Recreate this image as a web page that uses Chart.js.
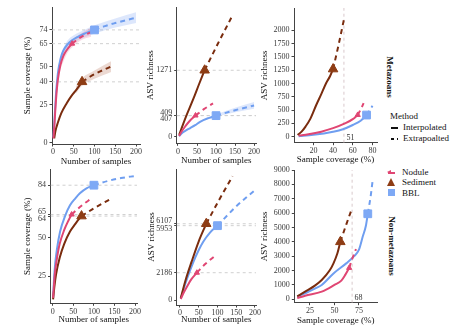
<!DOCTYPE html>
<html><head><meta charset="utf-8">
<script src="https://cdn.jsdelivr.net/npm/chart.js@4.4.1/dist/chart.umd.min.js"></script>
<style>
html,body{margin:0;padding:0;background:#fff;}
#wrap{position:relative;width:474px;height:336px;overflow:hidden;font-family:"Liberation Serif","Times New Roman",serif;color:#111;}
#wrap canvas{position:absolute;left:0;top:0;}
.strip{position:absolute;writing-mode:vertical-rl;font-weight:bold;font-size:9px;transform:translate(-50%,-50%);white-space:nowrap;}
.lg{position:absolute;font-size:9px;line-height:11px;white-space:nowrap;}
.ic{position:absolute;}
</style></head><body>
<div id="wrap">
  <div class="strip" style="left:390px;top:77px;">Metazoans</div>
  <div class="strip" style="left:391.5px;top:246px;">Non-metazoans</div>
  <div class="lg" style="left:390px;top:111px;">Method</div>
  <div class="ic" style="left:391px;top:127px;width:7px;height:2px;background:#111;"></div>
  <div class="lg" style="left:403px;top:122px;">Interpolated</div>
  <div class="ic" style="left:391px;top:137.5px;width:3px;height:2px;background:#111;"></div>
  <div class="ic" style="left:396.5px;top:137.5px;width:1.5px;height:2px;background:#111;"></div>
  <div class="lg" style="left:403px;top:133px;">Extrapoalted</div>
  <div class="ic" style="left:388px;top:171.5px;width:7px;height:2px;background:#e04673;"></div>
  <div class="ic" style="left:387px;top:170px;width:0;height:0;border-top:2.5px solid transparent;border-bottom:2.5px solid transparent;border-right:4px solid #e04673;"></div>
  <div class="lg" style="left:402px;top:167px;">Nodule</div>
  <div class="ic" style="left:387px;top:178px;width:0;height:0;border-left:4px solid transparent;border-right:4px solid transparent;border-bottom:8px solid #8e3c14;"></div>
  <div class="lg" style="left:402px;top:177px;">Sediment</div>
  <div class="ic" style="left:387.5px;top:189px;width:7px;height:7px;background:#7ea9f5;"></div>
  <div class="lg" style="left:402px;top:187.5px;">BBL</div>
</div>
<script>
// ---------------- DATA ----------------
const groups = ['Nodule', 'Sediment', 'BBL'];
const samplesTicks = [0, 50, 100, 150, 200];
const coverageTicksMeta = [20, 40, 60, 80];
const coverageTicksNon = [25, 50, 75];

// Metazoans: sample coverage vs number of samples
const metaCovYTicks = [0, 25, 40, 50, 65, 74];
const metaCovNoduleInt = [[1,3],[3,10],[5,19],[8,31],[12,42],[18,51],[25,57],[35,61.5],[46,65]];
const metaCovNoduleExt = [[46,65],[60,68],[75,70.5],[92,72.5]];
const metaCovSedimentInt = [[3,3],[6,8],[12,13.5],[20,19.5],[33,26],[45,31],[57,35],[70,40]];
const metaCovSedimentExt = [[70,40],[90,43.5],[115,47],[140,50]];
const metaCovBBLInt = [[1,4],[3,12],[5,22],[8,35],[12,46],[18,55],[25,60.5],[35,64.5],[45,67],[60,69.5],[75,71.5],[90,73],[100,74]];
const metaCovBBLExt = [[100,74],[125,76.5],[150,78.5],[175,80.3],[200,82]];
const metaCovPoints = [[46,65],[70,40],[100,74]];
const metaCovRefs = [74, 65, 40];
const metaCovNoduleBandUp = [[20,56],[35,64],[46,67.5],[70,72],[92,75.5]];
const metaCovNoduleBandLo = [[20,50],[35,59],[46,62.5],[70,67.5],[92,69.5]];
const metaCovSedimentBandUp = [[55,37],[70,42.5],[100,47.5],[140,53.5]];
const metaCovSedimentBandLo = [[55,32.5],[70,37.5],[100,42],[140,46.5]];
const metaCovBBLBandUp = [[20,59],[35,67],[50,70.5],[75,74],[100,77],[150,81.5],[200,85.5]];
const metaCovBBLBandLo = [[20,54],[35,62],[50,65.5],[75,69],[100,71.5],[150,75.5],[200,78.5]];

// Metazoans: ASV richness vs number of samples
const metaAsvYTicks = [0, 407, 409, 1271];
const metaAsvNoduleInt = [[3,20],[10,110],[20,210],[30,300],[46,409]];
const metaAsvNoduleExt = [[46,409],[68,530],[92,640]];
const metaAsvSedimentInt = [[3,40],[20,370],[40,720],[55,1000],[70,1271]];
const metaAsvSedimentExt = [[70,1271],[105,1780],[140,2270]];
const metaAsvBBLInt = [[3,15],[10,70],[20,120],[32,170],[45,225],[58,290],[80,360],[100,407]];
const metaAsvBBLExt = [[100,407],[150,510],[200,600]];
const metaAsvPoints = [[46,409],[70,1271],[100,407]];
const metaAsvRefs = [1271, 409, 407];
const metaAsvBBLBandUp = [[100,430],[150,555],[200,665]];
const metaAsvBBLBandLo = [[100,385],[150,470],[200,540]];

// Metazoans: ASV richness vs sample coverage
const metaAsvCovYTicks = [0, 250, 500, 750, 1000, 1250, 1500, 1750, 2000];
const metaAsvCovNoduleInt = [[5,20],[15,45],[28,94],[40,160],[52,250],[60,330],[65,409]];
const metaAsvCovNoduleExt = [[65,409],[68,510],[71,630]];
const metaAsvCovSedimentInt = [[4,32],[8,95],[12,190],[17,340],[23,600],[28,800],[33,1010],[37,1140],[40,1271]];
const metaAsvCovSedimentExt = [[40,1271],[45.5,1720],[51,2200]];
const metaAsvCovBBLInt = [[5,10],[20,35],[40,94],[50,140],[60,220],[68,300],[74,407]];
const metaAsvCovBBLExt = [[74,407],[77,490],[80,580]];
const metaAsvCovPoints = [[65,409],[40,1271],[74,407]];
const metaAsvCovVRef = [51];

// Non-metazoans: sample coverage vs number of samples
const nonCovYTicks = [25, 50, 64, 65, 84];
const nonCovNoduleInt = [[1,11],[5,26],[10,36],[17,46],[28,55],[38,61],[46,65]];
const nonCovNoduleExt = [[46,65],[60,68.5],[75,71.8],[92,75]];
const nonCovSedimentInt = [[1,10],[4,18],[8,26],[17,37],[28,46],[42,54],[55,59],[62,61.5],[70,64]];
const nonCovSedimentExt = [[70,64],[100,69],[140,75]];
const nonCovBBLInt = [[1,11],[3,22],[6,33],[10,42],[18,54],[30,64],[42,71],[55,75.5],[66,78.8],[82,82],[100,84]];
const nonCovBBLExt = [[100,84],[133,86.7],[166,88.6],[200,90]];
const nonCovPoints = [[46,65],[70,64],[100,84]];
const nonCovRefs = [84, 65, 64];

// Non-metazoans: ASV richness vs number of samples
const nonAsvYTicks = [0, 2186, 5953, 6107];
const nonAsvNoduleInt = [[2,80],[10,600],[20,1150],[30,1650],[45,2186]];
const nonAsvNoduleExt = [[45,2186],[68,2900],[92,3500]];
const nonAsvSedimentInt = [[2,150],[15,1600],[31,3070],[50,4700],[70,6107]];
const nonAsvSedimentExt = [[70,6107],[105,8050],[140,9900]];
const nonAsvBBLInt = [[2,100],[10,900],[20,1800],[35,3000],[50,4000],[62,4670],[80,5400],[100,5953]];
const nonAsvBBLExt = [[100,5953],[150,7500],[200,8800]];
const nonAsvPoints = [[45,2186],[70,6107],[100,5953]];
const nonAsvRefs = [6107, 5953, 2186];

// Non-metazoans: ASV richness vs sample coverage
const nonAsvCovYTicks = [0, 1000, 2000, 3000, 4000, 5000, 6000, 7000, 8000, 9000];
const nonAsvCovNoduleInt = [[12,80],[20,250],[37,530],[50,1000],[57,1300],[61,1700],[65,2186]];
const nonAsvCovNoduleExt = [[65,2186],[68,2800],[72,3500]];
const nonAsvCovSedimentInt = [[12,200],[20,530],[30,950],[37,1343],[45,2000],[49,2505],[53,3200],[56,4000]];
const nonAsvCovSedimentExt = [[56,4000],[62,5200],[68,6350]];
const nonAsvCovBBLInt = [[12,200],[20,420],[30,750],[37,1000],[49,1800],[62,2500],[70,3000],[75,3450],[79,4400],[82,5100],[84,5953]];
const nonAsvCovBBLExt = [[84,5953],[87,7200],[89,8300]];
const nonAsvCovPoints = [[65,2186],[56,4000],[84,5953]];
const nonAsvCovVRef = [68];

// ---------------- STYLE / BUILD ----------------
Chart.defaults.font.family = '"Liberation Serif", "Times New Roman", serif';
const COL = {Nodule:'#e04673', Sediment:'#7a2c0e', BBL:'#6f9ef0'};
const MCOL = {Nodule:'#e04673', Sediment:'#8e3c14', BBL:'#7ea9f5'};
const MSTYLE = {Nodule:['triangle',3], Sediment:['triangle',5.5], BBL:['rect',5.5]};
const BAND = {Nodule:'rgba(228,90,130,0.22)', Sediment:'rgba(170,80,50,0.22)', BBL:'rgba(120,160,245,0.25)'};
const pts = a => a.map(p => ({x:p[0], y:p[1]}));

const refTextPlugin = {
  id:'refText',
  afterDatasetsDraw(chart, args, opts){
    const ctx = chart.ctx, xs = chart.scales.x;
    (opts.items || []).forEach(v => {
      const px = xs.getPixelForValue(v);
      ctx.save();
      ctx.font = '8px "Liberation Serif", serif';
      ctx.fillStyle = '#333';
      ctx.textAlign = 'left';
      ctx.textBaseline = 'bottom';
      ctx.fillText(String(v), px + 2.5, chart.chartArea.bottom - 0.5);
      ctx.restore();
    });
  }
};

function panel(cfg){
  const g = cfg.g;
  const padL = g.yTitleX - 5.4;
  const YW = g.L - padL;
  const XH = g.xTitleY + 5.4 - g.B;
  const cv = document.createElement('canvas');
  cv.width = 474; cv.height = 336;
  document.getElementById('wrap').appendChild(cv);
  const ds = [];
  (cfg.bands || []).forEach(b => {
    const idx = ds.length;
    ds.push({data:pts(b.up), borderWidth:0, pointRadius:0, fill:false, order:3, cubicInterpolationMode:'monotone'});
    ds.push({data:pts(b.lo), borderWidth:0, pointRadius:0, fill:idx, backgroundColor:BAND[b.grp], order:3, cubicInterpolationMode:'monotone'});
  });
  (cfg.hRefs || []).forEach(v => ds.push({data:[{x:cfg.x[0],y:v},{x:cfg.x[1],y:v}], borderColor:'#d0d0d0', borderWidth:1, borderDash:[3,3], pointRadius:0, order:4}));
  (cfg.vRefs || []).forEach(v => ds.push({data:[{x:v,y:cfg.y[0]},{x:v,y:cfg.y[1]}], borderColor:'#d9c9cc', borderWidth:1, borderDash:[3,3], pointRadius:0, order:4}));
  cfg.series.forEach((s, i) => {
    const grp = groups[i];
    ds.push({data:pts(s[0]), borderColor:COL[grp], borderWidth:2, pointRadius:0, cubicInterpolationMode:'monotone', order:1});
    ds.push({data:pts(s[1]), borderColor:COL[grp], borderWidth:2, borderDash:[5,4], pointRadius:0, cubicInterpolationMode:'monotone', order:1});
  });
  cfg.points.forEach((p, i) => {
    const grp = groups[i];
    ds.push({data:pts([p]), showLine:false, pointStyle:MSTYLE[grp][0], pointRadius:MSTYLE[grp][1], backgroundColor:MCOL[grp], borderColor:MCOL[grp], borderWidth:1, order:0});
  });
  const axisCommon = {
    grid:{display:true, drawOnChartArea:false, drawTicks:true, tickLength:2.5, tickColor:'#444'},
    border:{display:true, color:'#444', width:1}
  };
  new Chart(cv, {
    type:'line',
    data:{datasets:ds},
    options:{
      responsive:false, animation:false, devicePixelRatio:1,
      layout:{padding:{left:padL, right:474 - g.R, top:g.T, bottom:336 - g.B - XH}},
      plugins:{legend:{display:false}, tooltip:{enabled:false}, refText:{items:cfg.vRefs || []}},
      scales:{
        x:Object.assign({
          type:'linear', min:cfg.x[0], max:cfg.x[1],
          afterBuildTicks: sc => { sc.ticks = cfg.xTicks.map(v => ({value:v})); },
          afterFit: sc => { sc.height = XH; },
          ticks:{autoSkip:false, maxRotation:0, padding:1, color:'#3a3a3a', font:{size:8}, callback:v => String(v)},
          title:{display:true, text:cfg.xTitle, color:'#111', font:{size:9}, padding:0}
        }, axisCommon),
        y:Object.assign({
          type:'linear', min:cfg.y[0], max:cfg.y[1],
          afterBuildTicks: sc => { sc.ticks = cfg.yTicks.map(v => ({value:v})); },
          afterFit: sc => { sc.width = YW; },
          ticks:{autoSkip:false, padding:2, color:'#3a3a3a', font:{size:8, lineHeight:cfg.yLH || 1.2},
            callback:v => (cfg.up || []).includes(v) ? [String(v), ''] : ((cfg.down || []).includes(v) ? ['', String(v)] : String(v))},
          title:{display:true, text:cfg.yTitle, color:'#111', font:{size:9}, padding:0}
        }, axisCommon)
      }
    },
    plugins:[refTextPlugin]
  });
}

// Panel 1
panel({g:{yTitleX:28, L:52, R:140, T:7, B:144, xTitleY:162}, x:[-2.4,209.6], y:[-0.7,89],
  xTicks:samplesTicks, yTicks:metaCovYTicks, xTitle:'Number of samples', yTitle:'Sample coverage (%)',
  series:[[metaCovNoduleInt, metaCovNoduleExt],[metaCovSedimentInt, metaCovSedimentExt],[metaCovBBLInt, metaCovBBLExt]],
  points:metaCovPoints, hRefs:metaCovRefs,
  bands:[{grp:'Nodule', up:metaCovNoduleBandUp, lo:metaCovNoduleBandLo},{grp:'Sediment', up:metaCovSedimentBandUp, lo:metaCovSedimentBandLo},{grp:'BBL', up:metaCovBBLBandUp, lo:metaCovBBLBandLo}]});
// Panel 2
panel({g:{yTitleX:151, L:176.7, R:256, T:7, B:143.3, xTitleY:160.7}, x:[-3.4,205], y:[-120,2476],
  xTicks:samplesTicks, yTicks:metaAsvYTicks, xTitle:'Number of samples', yTitle:'ASV richness',
  up:[409], down:[407], yLH:0.75,
  series:[[metaAsvNoduleInt, metaAsvNoduleExt],[metaAsvSedimentInt, metaAsvSedimentExt],[metaAsvBBLInt, metaAsvBBLExt]],
  points:metaAsvPoints, hRefs:metaAsvRefs,
  bands:[{grp:'BBL', up:metaAsvBBLBandUp, lo:metaAsvBBLBandLo}]});
// Panel 3
panel({g:{yTitleX:265, L:294, R:377, T:8, B:142.7, xTitleY:160}, x:[0.3,84.6], y:[-113,2419],
  xTicks:coverageTicksMeta, yTicks:metaAsvCovYTicks, xTitle:'Sample coverage (%)', yTitle:'ASV richness',
  series:[[metaAsvCovNoduleInt, metaAsvCovNoduleExt],[metaAsvCovSedimentInt, metaAsvCovSedimentExt],[metaAsvCovBBLInt, metaAsvCovBBLExt]],
  points:metaAsvCovPoints, vRefs:metaAsvCovVRef});
// Panel 4
panel({g:{yTitleX:28, L:50.5, R:137, T:169, B:303.3, xTitleY:320}, x:[-5.3,204.6], y:[7.5,94.5],
  xTicks:samplesTicks, yTicks:nonCovYTicks, xTitle:'Number of samples', yTitle:'Sample coverage (%)',
  up:[65], down:[64], yLH:0.7,
  series:[[nonCovNoduleInt, nonCovNoduleExt],[nonCovSedimentInt, nonCovSedimentExt],[nonCovBBLInt, nonCovBBLExt]],
  points:nonCovPoints, hRefs:nonCovRefs});
// Panel 5
panel({g:{yTitleX:152, L:176.7, R:256, T:169, B:305, xTitleY:320}, x:[-8.8,202.7], y:[-400,10490],
  xTicks:samplesTicks, yTicks:nonAsvYTicks, xTitle:'Number of samples', yTitle:'ASV richness',
  up:[6107], down:[5953], yLH:0.75,
  series:[[nonAsvNoduleInt, nonAsvNoduleExt],[nonAsvSedimentInt, nonAsvSedimentExt],[nonAsvBBLInt, nonAsvBBLExt]],
  points:nonAsvPoints, hRefs:nonAsvRefs});
// Panel 6
panel({g:{yTitleX:265, L:294.3, R:377, T:170, B:302.7, xTitleY:321}, x:[9,93.4], y:[-237,9000],
  xTicks:coverageTicksNon, yTicks:nonAsvCovYTicks, xTitle:'Sample coverage (%)', yTitle:'ASV richness',
  series:[[nonAsvCovNoduleInt, nonAsvCovNoduleExt],[nonAsvCovSedimentInt, nonAsvCovSedimentExt],[nonAsvCovBBLInt, nonAsvCovBBLExt]],
  points:nonAsvCovPoints, vRefs:nonAsvCovVRef});
</script>
</body></html>
